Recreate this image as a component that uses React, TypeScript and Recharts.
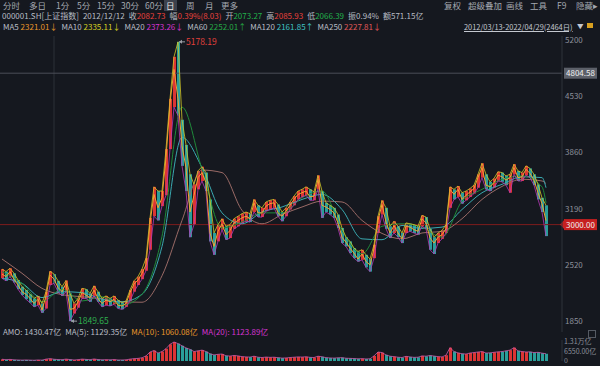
import React from 'react';
import { ComposedChart, Bar, Line, XAxis, YAxis, ReferenceLine, ReferenceDot, Cell } from 'recharts';

// ---- price samples (each ~ 18 trading days) ----
const closes = [
  2410, 2380, 2440, 2350, 2280, 2200, 2170, 2120, 2060, 2110,
  1980, 2150, 2400, 2350, 2250, 2200, 2300, 1990, 2000, 2080,
  2190, 2160, 2130, 2220, 2120, 2060, 2100, 2080, 2110, 2040,
  2030, 2060, 2190, 2290, 2340, 2420, 2520, 3020, 3360, 3200,
  3320, 3800, 4450, 4850, 4500, 3940, 3680, 3150, 3350, 3560,
  3620, 3500, 2900, 2740, 2920, 3010, 2880, 2930, 3020, 3050,
  3080, 3100, 3070, 3260, 3140, 3140, 3220, 3250, 3260, 3140,
  3100, 3160, 3230, 3300, 3360, 3380, 3400, 3330, 3340, 3540,
  3230, 3210, 3180, 3140, 3020, 2850, 2790, 2720, 2660, 2590,
  2650, 2560, 2520, 2710, 3050, 3240, 3030, 2900, 2990, 2900,
  2830, 2980, 2970, 2940, 2920, 3070, 3020, 2840, 2780, 2850,
  2880, 2950, 3420, 3360, 3420, 3300, 3350, 3390, 3430, 3560,
  3680, 3470, 3450, 3500, 3590, 3570, 3530, 3560, 3680, 3560,
  3570, 3660, 3610, 3530, 3380, 3250, 3047,
];
const highs = [
  2470, 2440, 2480, 2420, 2340, 2260, 2220, 2170, 2120, 2150,
  2060, 2200, 2444, 2410, 2330, 2260, 2334, 2180, 2060, 2120,
  2240, 2230, 2180, 2270, 2200, 2120, 2150, 2120, 2150, 2100,
  2070, 2090, 2220, 2330, 2380, 2470, 2600, 3080, 3450, 3400,
  3400, 3900, 4500, 5000, 5178.19, 4250, 3950, 3600, 3480, 3640,
  3690, 3620, 3300, 2900, 3000, 3070, 2980, 3000, 3070, 3100,
  3130, 3150, 3130, 3300, 3230, 3200, 3270, 3290, 3300, 3240,
  3150, 3200, 3270, 3340, 3400, 3420, 3450, 3420, 3390, 3587,
  3400, 3260, 3230, 3200, 3120, 2960, 2850, 2800, 2720, 2680,
  2700, 2640, 2590, 2760, 3100, 3288, 3200, 2980, 3040, 2980,
  2900, 3020, 3010, 3000, 2980, 3110, 3090, 2950, 2850, 2900,
  2930, 3000, 3450, 3420, 3460, 3380, 3400, 3430, 3470, 3600,
  3731, 3600, 3510, 3550, 3630, 3620, 3580, 3600, 3720, 3640,
  3620, 3700, 3670, 3600, 3480, 3320, 3230,
];
const lows = [
  2360, 2330, 2380, 2310, 2230, 2160, 2110, 2070, 2020, 2040,
  1949, 2000, 2280, 2300, 2200, 2150, 2200, 1849.65, 1940, 2010,
  2120, 2120, 2080, 2150, 2080, 2020, 2040, 2030, 2050, 2000,
  1990, 2020, 2090, 2200, 2280, 2350, 2450, 2700, 3100, 3050,
  3220, 3350, 3900, 4400, 4300, 3700, 3400, 2850, 3000, 3420,
  3520, 3400, 2800, 2640, 2800, 2940, 2820, 2840, 2950, 2980,
  3020, 3040, 3030, 3150, 3090, 3090, 3160, 3180, 3200, 3100,
  3040, 3100, 3180, 3230, 3300, 3330, 3350, 3290, 3290, 3420,
  3080, 3150, 3120, 3080, 2960, 2780, 2740, 2660, 2600, 2560,
  2580, 2490, 2440, 2600, 2900, 3120, 2950, 2840, 2900, 2850,
  2780, 2900, 2920, 2900, 2880, 2980, 2950, 2700, 2650, 2780,
  2830, 2900, 3200, 3300, 3330, 3250, 3290, 3330, 3370, 3440,
  3560, 3420, 3400, 3440, 3520, 3510, 3470, 3380, 3600, 3520,
  3520, 3590, 3560, 3470, 3300, 3150, 2863,
];
// turnover (亿)
const volumes = [
  1200, 900, 1100, 800, 700, 600, 700, 600, 500, 700,
  600, 1300, 1600, 1200, 1000, 900, 1300, 1000, 700, 900,
  1300, 1100, 900, 1400, 1000, 800, 900, 800, 1000, 700,
  700, 800, 1300, 1600, 1800, 2200, 3500, 6200, 7200, 5500,
  6500, 8500, 11500, 13100, 12000, 10500, 9000, 8000, 6500, 7000,
  7500, 6500, 5000, 4200, 4600, 4800, 3600, 3400, 3800, 3500,
  3000, 2800, 2700, 3300, 2600, 2400, 2700, 2500, 2600, 2300,
  2000, 2100, 2400, 2600, 2800, 2700, 2900, 2500, 2400, 3300,
  2900, 2300, 2100, 2000, 2200, 2300, 1900, 1800, 1700, 1500,
  1600, 1400, 1500, 3500, 6200, 5800, 4200, 3300, 3000, 2600,
  2400, 3200, 2800, 2500, 2600, 3500, 3300, 3800, 3400, 3000,
  2800, 4000, 9200, 6500, 5600, 5000, 4800, 5500, 5800, 6200,
  6500, 5500, 5600, 6000, 6300, 6500, 7000, 7500, 9200, 7000,
  6500, 6200, 6300, 5800, 6000, 5400, 5000,
];
// long moving averages, read at every 5th sample
const maIdx = [0, 5, 10, 15, 20, 25, 30, 35, 40, 45, 50, 55, 60, 65, 70, 75, 80, 85, 90, 95, 100, 105, 110, 115, 120, 125, 130, 135, 136];
const ma60 = [2440, 2300, 2080, 2230, 2090, 2140, 2040, 2170, 2860, 4400, 3660, 2960, 3030, 3140, 3140, 3320, 3400, 2930, 2650, 2980, 3010, 2970, 2850, 3280, 3420, 3540, 3580, 3450, 3260];
const ma120 = [2360, 2300, 2130, 2200, 2190, 2110, 2080, 2170, 2740, 4040, 3680, 3140, 3010, 3150, 3210, 3300, 3360, 3180, 2830, 2820, 2990, 2955, 2970, 3180, 3380, 3480, 3570, 3560, 3440];
const ma250 = [2590, 2420, 2240, 2165, 2140, 2115, 2080, 2075, 2390, 3050, 3650, 3620, 3170, 3010, 3120, 3210, 3280, 3270, 3050, 2895, 2830, 2900, 2920, 3070, 3300, 3455, 3540, 3520, 3490];

const priceTicks = [1850, 2520, 3190, 3860, 4530, 5200];
const volTicks = [0, 6550, 13100];
const volTickLabels = ['0', '6550.00亿', '1.31万亿'];
const peakIdx = 44;
const troughIdx = 17;

const data: any[] = closes.map((c, i) => ({
  i,
  close: c,
  hi: highs[i],
  lo: lows[i],
  range: [lows[i], highs[i]],
  vol: volumes[i],
  up: i === 0 || c >= closes[i - 1],
}));
maIdx.forEach((idx, k) => {
  data[idx].ma60 = ma60[k];
  data[idx].ma120 = ma120[k];
  data[idx].ma250 = ma250[k];
});

const FONT = "'Noto Sans CJK SC','Noto Sans',sans-serif";
const UP = '#dc3434';
const DOWN = '#2a9e9a';
const RED = '#e8413c';
const GREEN = '#22b04c';

function T({ x, y, c = '#b8bcc4', s = 8, children, extra }: any) {
  return (
    <div style={{ position: 'absolute', left: x, top: y - s * 0.575, fontSize: s, lineHeight: `${s * 1.15}px`, color: c, whiteSpace: 'nowrap', ...(extra || {}) }}>
      {children}
    </div>
  );
}

function Row({ x, y, gap, items, s = 8 }: any) {
  return (
    <div style={{ position: 'absolute', left: x, top: y - s * 0.575, fontSize: s, lineHeight: `${s * 1.15}px`, display: 'flex', gap, whiteSpace: 'nowrap', color: '#b8bcc4' }}>
      {items.map((it: any, k: number) => (
        <span key={k}>{it[0]}{it[1] ? <span style={{ color: it[2] }}>{it[1]}</span> : null}</span>
      ))}
    </div>
  );
}

const PeakShape = (p: any) => (
  <g>
    <line x1={p.cx + 1} y1={p.cy} x2={p.cx + 7} y2={p.cy} stroke="#9a9ea6" strokeWidth={1} />
    <path d={`M${p.cx + 1},${p.cy} l3,-2 v4 z`} fill="#9a9ea6" />
    <text x={p.cx + 8} y={p.cy + 3} fontSize={8.5} fill="#e2403c" fontFamily={FONT}>5178.19</text>
  </g>
);
const TroughShape = (p: any) => (
  <g>
    <line x1={p.cx + 1} y1={p.cy} x2={p.cx + 7} y2={p.cy} stroke="#9a9ea6" strokeWidth={1} />
    <path d={`M${p.cx + 1},${p.cy} l3,-2 v4 z`} fill="#9a9ea6" />
    <text x={p.cx + 8} y={p.cy + 3} fontSize={8.5} fill="#2fae4e" fontFamily={FONT}>1849.65</text>
  </g>
);

const BoxLabel = (fill: string, text: string, arrow: boolean) => (props: any) => {
  const vb = props.viewBox || {};
  const x = (vb.x || 0) + (vb.width || 0) + 1;
  const y = vb.y || 0;
  return (
    <g>
      {arrow && <path d={`M${x - 3},${y} L${x + 2},${y - 5.5} L${x + 2},${y + 5.5} Z`} fill={fill} />}
      <rect x={x + 1} y={y - 5.5} width={33} height={11} fill={fill} />
      <text x={x + 3} y={y + 3} fontSize={8} fill="#f0f0f0" fontFamily={FONT}>{text}</text>
    </g>
  );
};

export default function App() {
  const toolbar: [string, number][] = [['分时', 3], ['多日', 29], ['1分', 56], ['5分', 77], ['15分', 97], ['30分', 121], ['60分', 145], ['周', 186], ['月', 205], ['更多', 221]];
  const rightTools: [string, number][] = [['复权', 444], ['超级叠加', 468], ['画线', 506], ['工具', 530], ['F9', 557], ['隐藏▸', 576]];
  const infoRow = [
    ['000001.SH[上证指数]'], ['2012/12/12'], ['收', '2082.73', RED], ['幅', '0.39%(8.03)', RED],
    ['开', '2073.27', GREEN], ['高', '2085.93', RED], ['低', '2066.39', GREEN], ['振0.94%'], ['额571.15亿'],
  ];
  const maRow = [
    ['MA5 ', '2321.01↓', '#e8962a'], ['MA10 ', '2335.11↓', '#d6cf22'], ['MA20 ', '2373.26↓', '#d634d0'],
    ['MA60 ', '2252.01↑', '#25a845'], ['MA120 ', '2161.85↑', '#3fc2c4'], ['MA250 ', '2227.81↓', '#e05858'],
  ];
  const amoRow = [
    ['AMO: 1430.47亿'], ['MA(5): 1129.35亿'], ['', 'MA(10): 1060.08亿', '#e8962a'], ['', 'MA(20): 1123.89亿', '#d634d0'],
  ];
  return (
    <div style={{ position: 'fixed', left: 0, top: 0, width: 600, height: 366, background: '#15181f', fontFamily: FONT, overflow: 'hidden' }}>
      {toolbar.map(([t, x]) => <T key={t} x={x} y={5.5} c="#a4a8b0" s={8.5}>{t}</T>)}
      <div style={{ position: 'absolute', left: 164, top: 0, width: 13, height: 11, background: '#3c414c' }} />
      <T x={166} y={5.5} c="#e8e8e8" s={8.5}>日</T>
      {rightTools.map(([t, x]) => <T key={t} x={x} y={5.5} c="#a4a8b0" s={8.5}>{t}</T>)}

      <Row x={2} y={16} gap={4} items={infoRow} />
      <Row x={3} y={27} gap={4} items={maRow} />
      <T x={464} y={27} c="#c4c8d0" s={7.4} extra={{ textDecoration: 'underline' }}>2012/03/13-2022/04/29(2464日)</T>
      <T x={577} y={27} c="#c4c8d0" s={6.5}>▼</T>
      <div style={{ position: 'absolute', left: 587, top: 23, width: 6, height: 5, background: '#d8a020' }} />

      <div style={{ position: 'absolute', left: 0, top: 26 }}>
        <ComposedChart width={600} height={306} data={data} margin={{ top: 10, right: 0, bottom: 0, left: 0 }}>
          <XAxis dataKey="i" hide padding={{ left: 0, right: 14 }} />
          <YAxis orientation="right" width={38} domain={[1720, 5248]} ticks={priceTicks} interval={0}
            tick={{ fill: '#8c909a', fontSize: 8 }} tickLine={false} tickSize={0} tickMargin={3}
            axisLine={{ stroke: '#2e323b' }} allowDataOverflow type="number" />
          <ReferenceLine x={13} stroke="#2c3039" />
          <ReferenceLine y={4804.58} stroke="#4a4e57" label={BoxLabel('#5c6069', '4804.58', false)} />
          <ReferenceLine y={3000} stroke="#7c1c1c" label={BoxLabel('#c62020', '3000.00', true)} />
          <Bar dataKey="range" barSize={3} isAnimationActive={false}>
            {data.map((d) => <Cell key={d.i} fill={d.up ? UP : DOWN} />)}
          </Bar>
          <Line dataKey="ma250" stroke="#9a6a66" strokeWidth={1} dot={false} connectNulls isAnimationActive={false} type="monotone" />
          <Line dataKey="ma120" stroke="#3aa9b0" strokeWidth={1} dot={false} connectNulls isAnimationActive={false} type="monotone" />
          <Line dataKey="ma60" stroke="#1f8a3a" strokeWidth={1} dot={false} connectNulls isAnimationActive={false} type="monotone" />
          <Line dataKey="lo" stroke="#b838b8" strokeWidth={0.8} dot={false} isAnimationActive={false} />
          <Line dataKey="hi" stroke="#d2c828" strokeWidth={0.8} dot={false} isAnimationActive={false} />
          <Line dataKey="close" stroke="#f0a232" strokeWidth={1} dot={false} isAnimationActive={false} />
          <ReferenceDot x={peakIdx} y={5178.19} r={0} shape={PeakShape} />
          <ReferenceDot x={troughIdx} y={1849.65} r={0} shape={TroughShape} />
        </ComposedChart>
      </div>

      <Row x={3} y={332} gap={4} items={amoRow} />
      <div style={{ position: 'absolute', left: 588, top: 330, width: 8, height: 8, border: '1px solid #555a63', boxSizing: 'border-box' }} />

      <div style={{ position: 'absolute', left: 0, top: 334 }}>
        <ComposedChart width={600} height={32} data={data} margin={{ top: 6, right: 0, bottom: 5, left: 0 }}>
          <XAxis dataKey="i" hide padding={{ left: 0, right: 14 }} />
          <YAxis orientation="right" width={38} domain={[0, 14479]} ticks={volTicks} interval={0}
            tickFormatter={(v: number) => volTickLabels[volTicks.indexOf(v)]}
            tick={{ fill: '#8c909a', fontSize: 7 }} tickLine={false} tickSize={0} tickMargin={2}
            axisLine={{ stroke: '#2e323b' }} type="number" />
          <Bar dataKey="vol" barSize={3} isAnimationActive={false}>
            {data.map((d) => <Cell key={d.i} fill={d.up ? UP : DOWN} />)}
          </Bar>
          <Line dataKey="vol" stroke="#c85aa8" strokeWidth={0.8} dot={false} isAnimationActive={false} />
        </ComposedChart>
      </div>
    </div>
  );
}
